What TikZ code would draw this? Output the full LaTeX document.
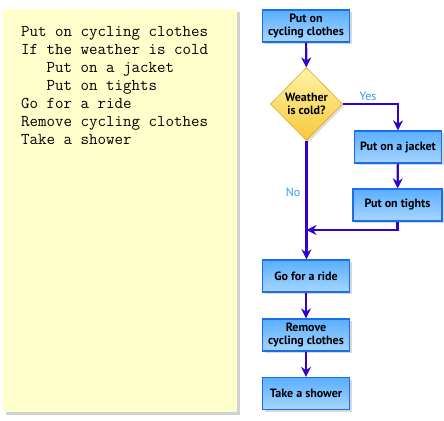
\documentclass[tikz,border=0pt]{standalone}
\usepackage{fontspec}
\setmainfont{PT Sans}
\usepackage{xcolor}
\usepackage{tikz}
\usetikzlibrary{positioning, shapes.geometric, shadows, arrows.meta}

\definecolor{notepad}{HTML}{FFFFCC}
\definecolor{boxedge}{HTML}{1A6FE8}
\definecolor{boxtop}{HTML}{5AAEFF}
\definecolor{boxbottom}{HTML}{A6D6FF}
\definecolor{decisionedge}{HTML}{E0A828}
\definecolor{decisiontop}{HTML}{FFF2A8}
\definecolor{decisionbottom}{HTML}{F7C93A}
\definecolor{flowline}{HTML}{3300CC}
\definecolor{branchtext}{HTML}{3399FF}

\tikzset{
  stepbox/.style = {rectangle, draw = boxedge, line width = 1.2pt,
    top color = boxtop, bottom color = boxbottom,
    minimum width = 87pt, minimum height = 32pt, inner sep = 1pt,
    align = center, font = \fontsize{12}{13}\selectfont\bfseries,
    drop shadow = {shadow xshift = 2pt, shadow yshift = -2pt, fill = black!30}},
  decision/.style = {diamond, aspect = 1, draw = decisionedge, line width = 0.6pt,
    top color = decisiontop, bottom color = decisionbottom,
    minimum width = 72pt, minimum height = 73pt, inner sep = 0pt,
    align = center, font = \fontsize{12}{13}\selectfont\bfseries,
    drop shadow = {shadow xshift = 2pt, shadow yshift = -2pt, fill = black!25}},
  flow/.style = {draw = flowline, line width = 2.2pt,
    -{Stealth[length = 10pt, width = 10pt]}},
  branch/.style = {text = branchtext, font = \fontsize{12}{14}\selectfont}
}

\begin{document}
\begin{tikzpicture}[x = 1pt, y = -1pt]
\useasboundingbox (0, 0) rectangle (444, 420);
\node (listing) [rectangle, fill = notepad, minimum width = 234pt, minimum height = 403pt,
  drop shadow = {shadow xshift = 3pt, shadow yshift = -3pt, fill = black!35}] at (120, 210.5) {};
\node (code) [anchor = north west, align = left, inner sep = 0pt,
  font = \fontsize{16.5}{18}\ttfamily] at (21, 26) {Put on cycling clothes\\
If the weather is cold\\
\ \ \ Put on a jacket\\
\ \ \ Put on tights\\
Go for a ride\\
Remove cycling clothes\\
Take a shower};
\node (clothes) [stepbox] at (306, 26) {Put on\\cycling clothes};
\node (cold) [decision] at (306.5, 104) {Weather\\is cold?};
\node (jacket) [stepbox] at (398, 147) {Put on a jacket};
\node (tights) [stepbox, minimum width = 89pt] at (397.5, 205) {Put on tights};
\node (ride) [stepbox] at (306, 276) {Go for a ride};
\node (remove) [stepbox] at (306, 335) {Remove\\cycling clothes};
\node (shower) [stepbox] at (306, 393.5) {Take a shower};
\coordinate (merge) at (306.5, 230);
\node (yes) [branch] at (368, 96) {Yes};
\node (no) [branch] at (293, 192) {No};
\draw [flow] (clothes) -- (cold);
\draw [flow] (cold.east) -| (jacket.north);
\draw [flow] (jacket) -- (tights);
\draw [flow] (tights.south) |- (merge);
\draw [flow] (cold.south) -- (ride.north -| cold.south);
\draw [flow] (ride) -- (remove);
\draw [flow] (remove) -- (shower);
\end{tikzpicture}
\end{document}
